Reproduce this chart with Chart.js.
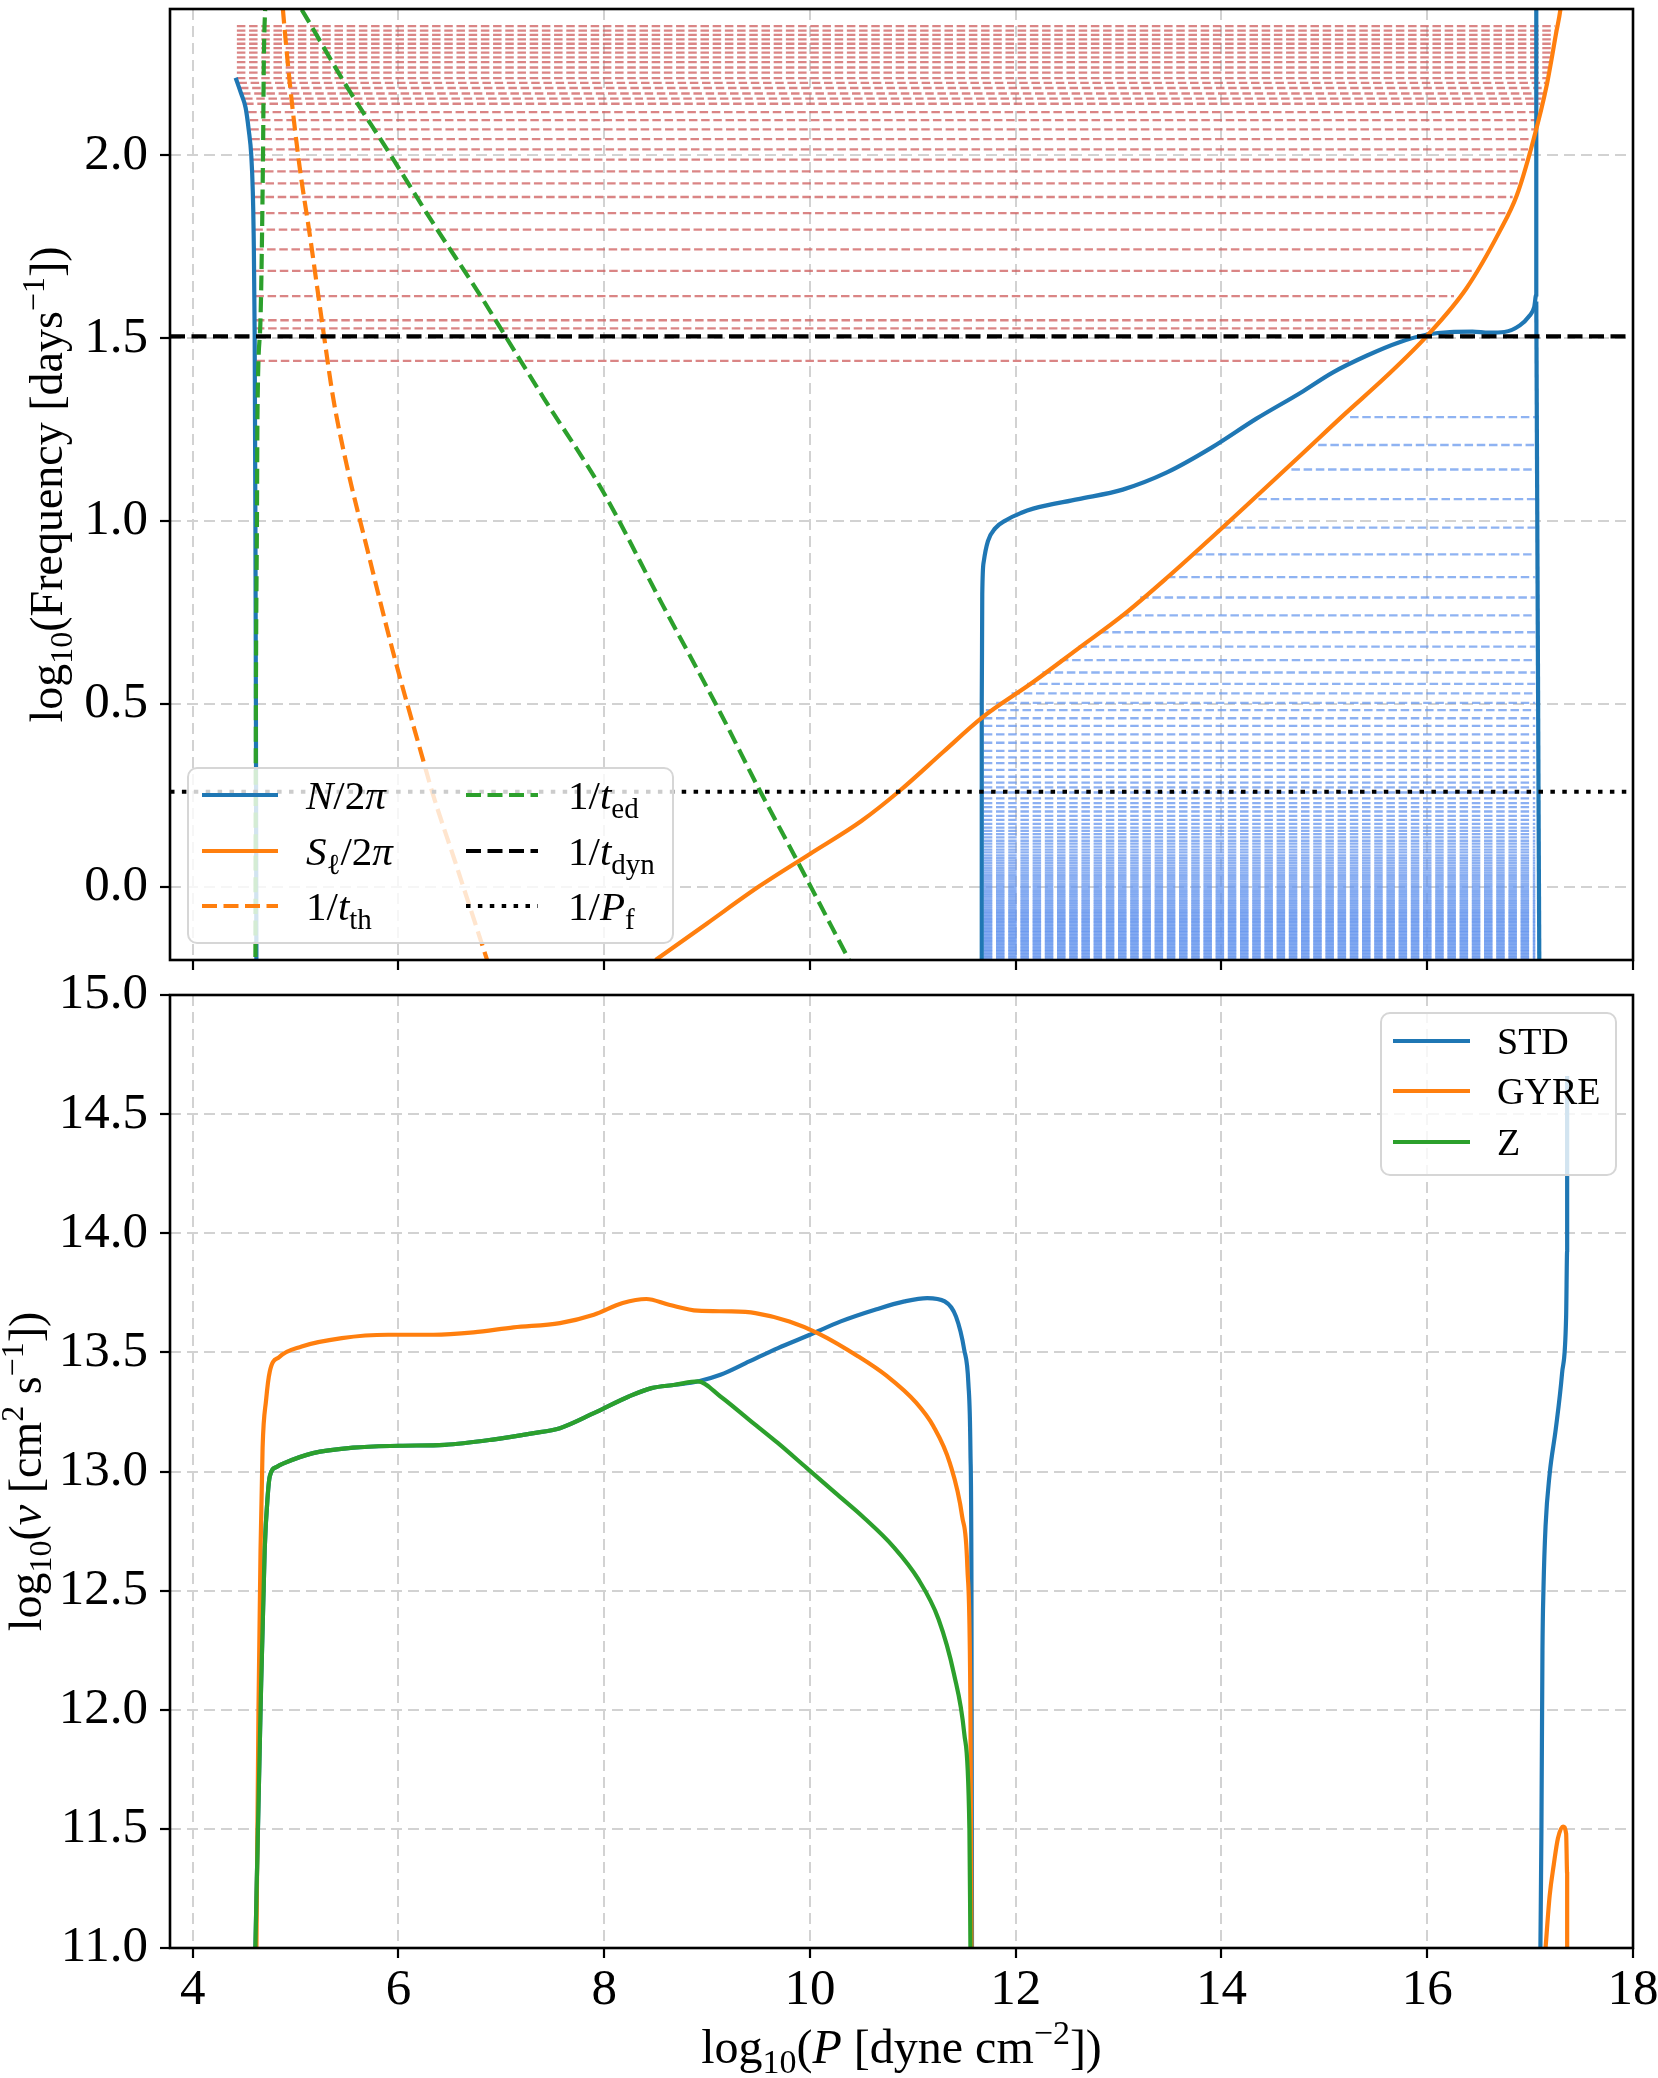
<!DOCTYPE html>
<html>
<head>
<meta charset="utf-8">
<script src="https://cdn.jsdelivr.net/npm/chart.js@4.4.1/dist/chart.umd.min.js"></script>
<style>
  html, body { margin: 0; padding: 0; background: #fff; }
  #wrap { position: relative; width: 1658px; height: 2078px; }
  #topChart { position: absolute; left: 0; top: 0; }
  #botChart { position: absolute; left: 0; top: 940px; }
</style>
</head>
<body>
<div id="wrap">
  <canvas id="topChart" width="1658" height="980"></canvas>
  <canvas id="botChart" width="1658" height="1138"></canvas>
</div>
<script>
// ---- data: x = log10(P), y = log10(freq) or log10(nu) ----
const xTicks = [4, 6, 8, 10, 12, 14, 16, 18];
const freqTicks = [0.0, 0.5, 1.0, 1.5, 2.0];
const nuTicks = [11.0, 11.5, 12.0, 12.5, 13.0, 13.5, 14.0, 14.5, 15.0];

// N/2pi (three pieces)
const nFreqEnvelope = [[4.418,2.212],[4.47,2.17],[4.515,2.13],[4.545,2.07],[4.57,2.0],[4.585,1.9],[4.593,1.787],[4.603,1.51],[4.61,1.0],[4.615,0.5],[4.62,-0.25]];
const nFreqCore = [[11.67,-0.25],[11.67,0.5],[11.675,0.8],[11.69,0.89],[11.73,0.945],[11.8,0.98],[11.91,1.003],[12.05,1.022],[12.17,1.034],[12.61,1.06],[13.04,1.086],[13.47,1.133],[13.9,1.2],[14.34,1.28],[14.77,1.351],[15.08,1.406],[15.41,1.452],[15.73,1.489],[16.0,1.51],[16.22,1.517],[16.44,1.518],[16.6,1.515],[16.75,1.517],[16.9,1.535],[16.99,1.56],[17.04,1.585],[17.06,1.62],[17.06,2.5]];
const nFreqCentre = [[17.06,1.6],[17.09,-0.25]];

// S_l/2pi
const lambFreq = [[8.5,-0.2],[9.0,-0.1],[9.5,0.0],[10.0,0.09],[10.5,0.18],[10.87,0.262],[11.3,0.37],[11.67,0.462],[12.17,0.56],[12.61,0.652],[13.04,0.742],[13.47,0.845],[13.99,0.977],[14.34,1.068],[14.77,1.18],[15.2,1.293],[15.6,1.395],[16.0,1.507],[16.38,1.636],[16.7,1.79],[16.87,1.89],[17.03,2.04],[17.16,2.19],[17.25,2.33],[17.3,2.41],[17.33,2.5]];

// 1/t_th, and 1/t_ed (rising branch near the surface, falling branch inwards)
const thermalFreq = [[4.86,2.46],[4.877,2.4],[4.945,2.196],[5.04,1.968],[5.137,1.786],[5.22,1.62],[5.28,1.5],[5.364,1.34],[5.5,1.15],[5.7,0.92],[5.95,0.64],[6.24,0.347],[6.33,0.258],[6.55,0.07],[6.92,-0.25]];
const eddyFreqRise = [[4.61,-0.25],[4.615,0.5],[4.625,1.0],[4.63,1.285],[4.66,1.555],[4.684,2.0],[4.692,2.26],[4.705,2.4],[4.72,2.5]];
const eddyFreqFall = [[4.95,2.448],[5.056,2.4],[5.494,2.19],[5.915,2.005],[6.336,1.815],[6.789,1.62],[7.048,1.502],[7.42,1.333],[7.98,1.085],[8.56,0.775],[9.14,0.47],[9.5,0.27],[9.85,0.085],[10.38,-0.2]];

const dynFreq = 1.505;
const forcingFreq = 0.26;

// p-mode lines: [log10 freq, start, end]
const pModes = [[2.353,4.43,17.245],[2.341,4.43,17.24],[2.329,4.43,17.232],[2.317,4.43,17.225],[2.305,4.43,17.218],[2.293,4.43,17.21],[2.281,4.43,17.2],[2.268,4.43,17.192],[2.255,4.43,17.185],[2.240,4.43,17.175],[2.226,4.43,17.165],[2.211,4.43,17.155],[2.198,4.445,17.148],[2.184,4.46,17.138],[2.169,4.48,17.125],[2.155,4.50,17.112],[2.141,4.51,17.1],[2.118,4.54,17.08],[2.096,4.555,17.06],[2.071,4.56,17.04],[2.044,4.57,17.015],[2.016,4.575,16.98],[1.988,4.58,16.95],[1.956,4.585,16.915],[1.923,4.59,16.88],[1.886,4.59,16.83],[1.842,4.595,16.76],[1.797,4.60,16.68],[1.743,4.605,16.57],[1.684,4.61,16.44],[1.615,4.61,16.26],[1.549,4.615,16.09],[1.527,4.615,16.03],[1.438,4.62,15.24]];

// g-mode lines: upper ones start on S_l, lower ones on the N boundary
const gModesUpper = [[1.284,15.25],[1.208,14.94],[1.141,14.68],[1.060,14.36],[0.982,14.01],[0.909,13.73],[0.847,13.47],[0.791,13.21],[0.742,13.02],[0.696,12.82],[0.657,12.61],[0.620,12.43],[0.586,12.26],[0.555,12.11],[0.529,11.96],[0.503,11.81],[0.483,11.71]];
const gModesLower = [0.461,0.440,0.417,0.394,0.372,0.354,0.338,0.320,0.301,0.285,0.272,0.258,0.242,0.229,0.218,0.206,0.194,0.183,0.172,0.162,0.153,0.144,0.135,0.126,0.118,0.110,0.102,0.094,0.086,0.079,0.072,0.065,0.058,0.051,0.045,0.039,0.033,0.027,0.021,0.015,0.009,0.003,-0.003,-0.009,-0.014,-0.019,-0.024,-0.029,-0.034,-0.039,-0.044,-0.049,-0.054,-0.059,-0.064,-0.068,-0.072,-0.076,-0.080,-0.084,-0.088,-0.092,-0.096,-0.100,-0.104,-0.108,-0.112,-0.116,-0.120,-0.124,-0.128,-0.132,-0.136,-0.140,-0.144,-0.148,-0.152,-0.156,-0.160,-0.164,-0.168,-0.172,-0.176,-0.180,-0.184,-0.188,-0.192,-0.196];
const gInner = 11.69;
const gOuter = 17.05;

// bottom panel: log10(nu)
const stdEnvelope = [[4.61,11.0],[4.66,12.0],[4.70,12.67],[4.73,12.9],[4.75,12.98],[4.82,13.02],[4.89,13.035],[5.17,13.077],[5.56,13.10],[6.01,13.108],[6.45,13.112],[6.9,13.133],[7.3,13.16],[7.57,13.182],[7.9,13.245],[8.24,13.315],[8.46,13.35],[8.69,13.364],[8.91,13.378],[9.13,13.406],[9.41,13.462],[9.69,13.518],[10.0,13.574],[10.3,13.63],[10.64,13.68],[10.92,13.714],[11.14,13.728],[11.31,13.714],[11.42,13.65],[11.5,13.51],[11.54,13.37],[11.56,13.09],[11.57,12.5],[11.575,11.0]];
const stdCore = [[17.10,11.0],[17.11,11.5],[17.12,12.25],[17.13,12.51],[17.15,12.77],[17.19,12.99],[17.25,13.18],[17.31,13.41],[17.35,13.65],[17.36,13.93],[17.36,14.3],[17.36,14.66]];
const gyreEnvelope = [[4.62,11.0],[4.64,12.0],[4.66,12.67],[4.68,13.1],[4.714,13.3],[4.75,13.42],[4.84,13.48],[5.06,13.525],[5.45,13.56],[5.9,13.574],[6.34,13.574],[6.73,13.584],[7.12,13.605],[7.57,13.623],[7.9,13.658],[8.18,13.707],[8.41,13.724],[8.63,13.70],[8.91,13.675],[9.24,13.672],[9.47,13.665],[9.80,13.63],[10.08,13.58],[10.47,13.483],[10.75,13.40],[11.03,13.29],[11.2,13.19],[11.36,13.035],[11.48,12.81],[11.53,12.6],[11.56,12.0],[11.57,11.0]];
const gyreCore = [[17.15,11.0],[17.19,11.22],[17.23,11.35],[17.27,11.46],[17.32,11.51],[17.35,11.48],[17.36,11.31],[17.36,11.0]];
const zEnvelope = [[4.61,11.0],[4.66,12.0],[4.70,12.67],[4.73,12.9],[4.75,12.98],[4.82,13.02],[4.89,13.035],[5.17,13.077],[5.56,13.10],[6.01,13.108],[6.45,13.112],[6.9,13.133],[7.3,13.16],[7.57,13.182],[7.9,13.245],[8.24,13.315],[8.46,13.35],[8.69,13.364],[8.91,13.378],[9.13,13.315],[9.41,13.217],[9.69,13.119],[9.97,13.014],[10.25,12.909],[10.53,12.804],[10.81,12.685],[11.05,12.55],[11.25,12.38],[11.4,12.15],[11.5,11.9],[11.55,11.5],[11.56,11.0]];

// ---- styling helpers ----
const FONT = '"Liberation Serif", "DejaVu Serif", serif';
const C_BLUE = '#1f77b4', C_ORANGE = '#ff7f0e', C_GREEN = '#2ca02c';
const LW = 4.2;
const DASH = [15, 6.5];
const DOT = [4.5, 7.4];
const MODE_DASH = [8.5, 3.7];
const TICK_SIZE = 51;
const TITLE_SIZE = 46;
const BOT_TOP = 940;   // page offset of the lower canvas

function pts(arr) { return arr.map(p => ({x: p[0], y: p[1]})); }
function series(arr, color, opts) {
  return Object.assign({
    data: pts(arr), borderColor: color, borderWidth: LW, borderDash: [],
    pointRadius: 0, fill: false, cubicInterpolationMode: 'monotone', order: 5
  }, opts || {});
}

function fontFor(p, size) {
  const s = (p.sub || p.sup) ? Math.round(size * 0.7) : size;
  return (p.it ? 'italic ' : '') + s + 'px ' + FONT;
}
function drawRich(ctx, parts, x, y, size, align) {
  let w = 0;
  parts.forEach(p => { ctx.font = fontFor(p, size); w += ctx.measureText(p.t).width; });
  let cx = align === 'center' ? x - w / 2 : x;
  ctx.textAlign = 'left';
  ctx.textBaseline = 'alphabetic';
  parts.forEach(p => {
    ctx.font = fontFor(p, size);
    const dy = p.sub ? size * 0.22 : (p.sup ? -size * 0.4 : 0);
    ctx.fillText(p.t, cx, y + dy);
    cx += ctx.measureText(p.t).width;
  });
}

function roundRect(ctx, x, y, w, h, r) {
  ctx.beginPath();
  ctx.moveTo(x + r, y);
  ctx.arcTo(x + w, y, x + w, y + h, r);
  ctx.arcTo(x + w, y + h, x, y + h, r);
  ctx.arcTo(x, y + h, x, y, r);
  ctx.arcTo(x, y, x + w, y, r);
  ctx.closePath();
}

function scaleX(showLabels, axisH) {
  return {
    type: 'linear', min: 3.78, max: 18,
    afterBuildTicks: s => { s.ticks = xTicks.map(v => ({value: v})); },
    afterFit: s => { s.height = axisH; s.paddingLeft = 0; s.paddingRight = 0; },
    ticks: { display: showLabels, color: '#000', padding: 2, maxRotation: 0, autoSkip: false,
             font: {family: FONT, size: TICK_SIZE}, callback: v => String(v) },
    grid: { color: '#d2d2d2', lineWidth: 2, tickColor: '#000', tickWidth: 2.2, tickLength: 10, tickBorderDash: [] },
    border: { display: false, dash: [11, 6] }
  };
}
function scaleY(min, max, ticksArr) {
  return {
    type: 'linear', min: min, max: max,
    afterBuildTicks: s => { s.ticks = ticksArr.map(v => ({value: v})); },
    afterFit: s => { s.width = 170; s.paddingTop = 0; s.paddingBottom = 0; },
    ticks: { color: '#000', padding: 12, font: {family: FONT, size: TICK_SIZE}, callback: v => v.toFixed(1) },
    grid: { color: '#d2d2d2', lineWidth: 2, tickColor: '#000', tickWidth: 2.2, tickLength: 10, tickBorderDash: [] },
    border: { display: false, dash: [11, 6] }
  };
}

const framePlugin = {
  id: 'frame',
  afterDraw(chart) {
    const a = chart.chartArea, ctx = chart.ctx;
    ctx.save();
    ctx.strokeStyle = '#000';
    ctx.lineWidth = 2.6;
    ctx.strokeRect(a.left, a.top, a.right - a.left, a.bottom - a.top);
    ctx.restore();
  }
};

function yTitle(parts, cx) {
  return {
    id: 'ytitle',
    afterDraw(chart) {
      const a = chart.chartArea, ctx = chart.ctx, size = TITLE_SIZE;
      ctx.save();
      ctx.fillStyle = '#000';
      ctx.translate(cx, (a.top + a.bottom) / 2);
      ctx.rotate(-Math.PI / 2);
      drawRich(ctx, parts, 0, size * 0.33, size, 'center');
      ctx.restore();
    }
  };
}

// ---- top chart ----
const topSets = [];
topSets.push(series([[3.78, forcingFreq], [18, forcingFreq]], '#000', {borderDash: DOT, order: 0}));
topSets.push(series([[3.78, dynFreq], [18, dynFreq]], '#000', {borderDash: DASH, order: 1}));
topSets.push(series(eddyFreqRise, C_GREEN, {borderDash: DASH, order: 2}));
topSets.push(series(eddyFreqFall, C_GREEN, {borderDash: DASH, order: 2}));
topSets.push(series(thermalFreq, C_ORANGE, {borderDash: DASH, order: 3}));
topSets.push(series(lambFreq, C_ORANGE, {order: 4}));
topSets.push(series(nFreqEnvelope, C_BLUE, {order: 5}));
topSets.push(series(nFreqCore, C_BLUE, {order: 5}));
topSets.push(series(nFreqCentre, C_BLUE, {order: 5}));
pModes.forEach(m => {
  topSets.push(series([[m[1], m[0]], [m[2], m[0]]], 'rgba(205,92,92,0.75)',
    {borderWidth: 2.3, borderDash: MODE_DASH, order: 10}));
});
gModesUpper.forEach(m => {
  topSets.push(series([[m[1], m[0]], [gOuter, m[0]]], 'rgba(100,149,237,0.72)',
    {borderWidth: 2.3, borderDash: MODE_DASH, order: 10}));
});
gModesLower.forEach(v => {
  topSets.push(series([[gInner, v], [gOuter, v]], 'rgba(100,149,237,0.74)',
    {borderWidth: 2.3, borderDash: MODE_DASH, order: 10}));
});

const topLegendItems = [
  {col: 0, row: 0, color: C_BLUE, dash: [], parts: [{t: 'N', it: 1}, {t: '/2'}, {t: 'π', it: 1}]},
  {col: 0, row: 1, color: C_ORANGE, dash: [], parts: [{t: 'S', it: 1}, {t: 'ℓ', sub: 1}, {t: '/2'}, {t: 'π', it: 1}]},
  {col: 0, row: 2, color: C_ORANGE, dash: DASH, parts: [{t: '1/'}, {t: 't', it: 1}, {t: 'th', sub: 1}]},
  {col: 1, row: 0, color: C_GREEN, dash: DASH, parts: [{t: '1/'}, {t: 't', it: 1}, {t: 'ed', sub: 1}]},
  {col: 1, row: 1, color: '#000', dash: DASH, parts: [{t: '1/'}, {t: 't', it: 1}, {t: 'dyn', sub: 1}]},
  {col: 1, row: 2, color: '#000', dash: DOT, parts: [{t: '1/'}, {t: 'P', it: 1}, {t: 'f', sub: 1}]}
];

const topLegend = {
  id: 'topLegend',
  afterDatasetsDraw(chart) {
    const ctx = chart.ctx, fs = 41;
    ctx.save();
    roundRect(ctx, 188, 768, 485, 175, 9);
    ctx.fillStyle = 'rgba(255,255,255,0.8)';
    ctx.fill();
    ctx.strokeStyle = '#d6d6d6';
    ctx.lineWidth = 2;
    ctx.stroke();
    const lineX = [[202, 278], [466, 538]], textX = [306, 568], rowY = [795, 851, 906];
    topLegendItems.forEach(it => {
      const y = rowY[it.row];
      ctx.beginPath();
      ctx.setLineDash(it.dash);
      ctx.strokeStyle = it.color;
      ctx.lineWidth = LW;
      ctx.moveTo(lineX[it.col][0], y);
      ctx.lineTo(lineX[it.col][1], y);
      ctx.stroke();
      ctx.setLineDash([]);
      ctx.fillStyle = '#000';
      drawRich(ctx, it.parts, textX[it.col], y + fs * 0.33, fs, 'left');
    });
    ctx.restore();
  }
};

new Chart(document.getElementById('topChart'), {
  type: 'line',
  data: { datasets: topSets },
  options: {
    responsive: false, animation: false, devicePixelRatio: 1,
    layout: { padding: { top: 9, right: 25, left: 0, bottom: 0 } },
    plugins: { legend: { display: false }, tooltip: { enabled: false } },
    scales: { x: scaleX(false, 20), y: scaleY(-0.2, 2.4, freqTicks) }
  },
  plugins: [topLegend, framePlugin,
    yTitle([{t: 'log'}, {t: '10', sub: 1}, {t: '(Frequency [days'}, {t: '−1', sup: 1}, {t: '])'}], 47)]
});

// ---- bottom chart ----
const botSets = [
  series(zEnvelope, C_GREEN, {order: 0}),
  series(gyreEnvelope, C_ORANGE, {order: 1}),
  series(gyreCore, C_ORANGE, {order: 1}),
  series(stdEnvelope, C_BLUE, {order: 2}),
  series(stdCore, C_BLUE, {order: 2})
];

const botLegendItems = [
  {color: C_BLUE, label: 'STD'},
  {color: C_ORANGE, label: 'GYRE'},
  {color: C_GREEN, label: 'Z'}
];

const botLegend = {
  id: 'botLegend',
  afterDatasetsDraw(chart) {
    const ctx = chart.ctx;
    ctx.save();
    roundRect(ctx, 1381, 1013 - BOT_TOP, 235, 162, 9);
    ctx.fillStyle = 'rgba(255,255,255,0.8)';
    ctx.fill();
    ctx.strokeStyle = '#d6d6d6';
    ctx.lineWidth = 2;
    ctx.stroke();
    const rowY = [1041, 1091, 1142].map(v => v - BOT_TOP);
    botLegendItems.forEach((it, i) => {
      ctx.beginPath();
      ctx.strokeStyle = it.color;
      ctx.lineWidth = LW;
      ctx.moveTo(1393, rowY[i]);
      ctx.lineTo(1470, rowY[i]);
      ctx.stroke();
      ctx.fillStyle = '#000';
      drawRich(ctx, [{t: it.label}], 1497, rowY[i] + 38 * 0.33, 38, 'left');
    });
    ctx.restore();
  }
};

const xTitle = {
  id: 'xtitle',
  afterDraw(chart) {
    const a = chart.chartArea, ctx = chart.ctx, size = 48;
    ctx.save();
    ctx.fillStyle = '#000';
    drawRich(ctx, [{t: 'log'}, {t: '10', sub: 1}, {t: '('}, {t: 'P', it: 1}, {t: ' [dyne cm'}, {t: '−2', sup: 1}, {t: '])'}],
      (a.left + a.right) / 2, a.bottom + 99 + size * 0.33, size, 'center');
    ctx.restore();
  }
};

new Chart(document.getElementById('botChart'), {
  type: 'line',
  data: { datasets: botSets },
  options: {
    responsive: false, animation: false, devicePixelRatio: 1,
    layout: { padding: { top: 995 - BOT_TOP, right: 25, left: 0, bottom: 0 } },
    plugins: { legend: { display: false }, tooltip: { enabled: false } },
    scales: { x: scaleX(true, 130), y: scaleY(11, 15, nuTicks) }
  },
  plugins: [botLegend, framePlugin, xTitle,
    yTitle([{t: 'log'}, {t: '10', sub: 1}, {t: '('}, {t: 'ν', it: 1}, {t: ' [cm'}, {t: '2', sup: 1}, {t: ' s'}, {t: '−1', sup: 1}, {t: '])'}], 26)]
});
</script>
</body>
</html>
